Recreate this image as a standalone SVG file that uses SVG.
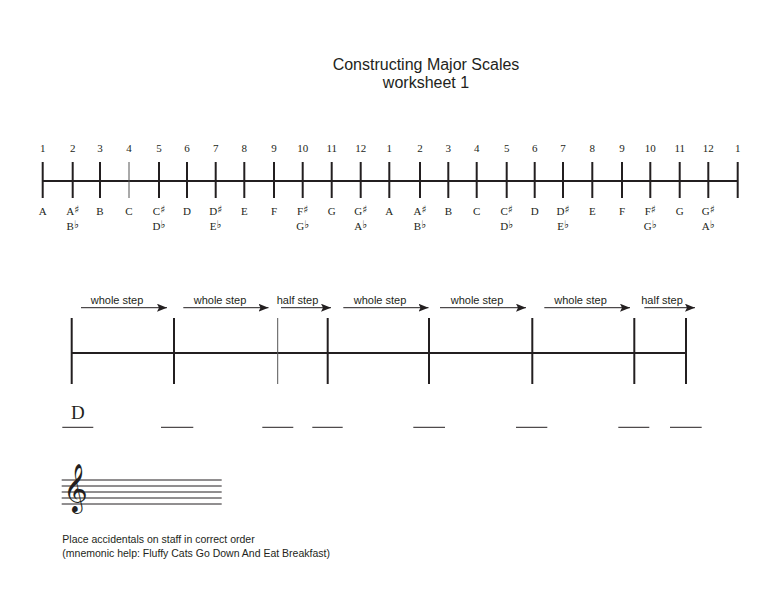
<svg xmlns="http://www.w3.org/2000/svg" width="768" height="594" viewBox="0 0 768 594">
<defs>
<style>
.sans{font-family:"Liberation Sans",Arial,sans-serif;fill:#231f20}
.serif{font-family:"Liberation Serif","DejaVu Serif",serif;fill:#231f20;font-size:11px}
.num{text-anchor:middle}
.note{text-anchor:middle}
.acc{font-size:10.5px;font-family:"DejaVu Serif",serif}
.tick{stroke:#231f20;stroke-width:2}
.thin{stroke:#555;stroke-width:1}
.axis{stroke:#231f20;stroke-width:2}
.arrow{stroke:#231f20;stroke-width:1;marker-end:url(#ah)}
.blank{stroke:#231f20;stroke-width:1}
.staff{stroke:#231f20;stroke-width:1}
.lbl{font-size:11px;text-anchor:middle}
</style>
<marker id="ah" viewBox="0 0 10 8" refX="10" refY="4" markerWidth="10" markerHeight="8" markerUnits="userSpaceOnUse" orient="auto">
<path d="M0,0 L10,4 L0,8 L2,4 Z" fill="#231f20"/>
</marker>
</defs>
<rect width="768" height="594" fill="#fff"/>

<g id="title" class="sans" text-anchor="middle" font-size="16">
<text x="426" y="70">Constructing Major Scales</text>
<text x="426" y="88">worksheet 1</text>
</g>

<g id="chromatic-line">
<line class="axis" x1="42.7" y1="181" x2="737.7" y2="181"/>
<g id="ticks">
<line class="tick" x1="42.7" y1="162" x2="42.7" y2="198"/>
<line class="tick" x1="72.7" y1="162" x2="72.7" y2="198"/>
<line class="tick" x1="100" y1="162" x2="100" y2="198"/>
<line class="thin" x1="129" y1="162" x2="129" y2="198"/>
<line class="tick" x1="159" y1="162" x2="159" y2="198"/>
<line class="tick" x1="187" y1="162" x2="187" y2="198"/>
<line class="tick" x1="215.7" y1="162" x2="215.7" y2="198"/>
<line class="tick" x1="244.3" y1="162" x2="244.3" y2="198"/>
<line class="tick" x1="274" y1="162" x2="274" y2="198"/>
<line class="tick" x1="302.7" y1="162" x2="302.7" y2="198"/>
<line class="tick" x1="331.7" y1="162" x2="331.7" y2="198"/>
<line class="tick" x1="360.7" y1="162" x2="360.7" y2="198"/>
<line class="tick" x1="389.3" y1="162" x2="389.3" y2="198"/>
<line class="tick" x1="420" y1="162" x2="420" y2="198"/>
<line class="tick" x1="448.3" y1="162" x2="448.3" y2="198"/>
<line class="tick" x1="476.7" y1="162" x2="476.7" y2="198"/>
<line class="tick" x1="506.7" y1="162" x2="506.7" y2="198"/>
<line class="tick" x1="534.7" y1="162" x2="534.7" y2="198"/>
<line class="tick" x1="563" y1="162" x2="563" y2="198"/>
<line class="tick" x1="592.3" y1="162" x2="592.3" y2="198"/>
<line class="tick" x1="622" y1="162" x2="622" y2="198"/>
<line class="tick" x1="650.3" y1="162" x2="650.3" y2="198"/>
<line class="tick" x1="679.7" y1="162" x2="679.7" y2="198"/>
<line class="tick" x1="708.3" y1="162" x2="708.3" y2="198"/>
<line class="tick" x1="737.7" y1="162" x2="737.7" y2="198"/>
</g>
<g id="numbers" class="serif num">
<text x="42.7" y="152">1</text>
<text x="72.7" y="152">2</text>
<text x="100" y="152">3</text>
<text x="129" y="152">4</text>
<text x="159" y="152">5</text>
<text x="187" y="152">6</text>
<text x="215.7" y="152">7</text>
<text x="244.3" y="152">8</text>
<text x="274" y="152">9</text>
<text x="302.7" y="152">10</text>
<text x="331.7" y="152">11</text>
<text x="360.7" y="152">12</text>
<text x="389.3" y="152">1</text>
<text x="420" y="152">2</text>
<text x="448.3" y="152">3</text>
<text x="476.7" y="152">4</text>
<text x="506.7" y="152">5</text>
<text x="534.7" y="152">6</text>
<text x="563" y="152">7</text>
<text x="592.3" y="152">8</text>
<text x="622" y="152">9</text>
<text x="650.3" y="152">10</text>
<text x="679.7" y="152">11</text>
<text x="708.3" y="152">12</text>
<text x="737.7" y="152">1</text>
</g>
<g id="notes" class="serif note">
<text x="42.7" y="215">A</text>
<text x="72.7" y="215">A<tspan class="acc" dy="-2">♯</tspan></text>
<text x="72.7" y="230">B<tspan class="acc" dy="-2">♭</tspan></text>
<text x="100" y="215">B</text>
<text x="129" y="215">C</text>
<text x="159" y="215">C<tspan class="acc" dy="-2">♯</tspan></text>
<text x="159" y="230">D<tspan class="acc" dy="-2">♭</tspan></text>
<text x="187" y="215">D</text>
<text x="215.7" y="215">D<tspan class="acc" dy="-2">♯</tspan></text>
<text x="215.7" y="230">E<tspan class="acc" dy="-2">♭</tspan></text>
<text x="244.3" y="215">E</text>
<text x="274" y="215">F</text>
<text x="302.7" y="215">F<tspan class="acc" dy="-2">♯</tspan></text>
<text x="302.7" y="230">G<tspan class="acc" dy="-2">♭</tspan></text>
<text x="331.7" y="215">G</text>
<text x="360.7" y="215">G<tspan class="acc" dy="-2">♯</tspan></text>
<text x="360.7" y="230">A<tspan class="acc" dy="-2">♭</tspan></text>
<text x="389.3" y="215">A</text>
<text x="420" y="215">A<tspan class="acc" dy="-2">♯</tspan></text>
<text x="420" y="230">B<tspan class="acc" dy="-2">♭</tspan></text>
<text x="448.3" y="215">B</text>
<text x="476.7" y="215">C</text>
<text x="506.7" y="215">C<tspan class="acc" dy="-2">♯</tspan></text>
<text x="506.7" y="230">D<tspan class="acc" dy="-2">♭</tspan></text>
<text x="534.7" y="215">D</text>
<text x="563" y="215">D<tspan class="acc" dy="-2">♯</tspan></text>
<text x="563" y="230">E<tspan class="acc" dy="-2">♭</tspan></text>
<text x="592.3" y="215">E</text>
<text x="622" y="215">F</text>
<text x="650.3" y="215">F<tspan class="acc" dy="-2">♯</tspan></text>
<text x="650.3" y="230">G<tspan class="acc" dy="-2">♭</tspan></text>
<text x="679.7" y="215">G</text>
<text x="708.3" y="215">G<tspan class="acc" dy="-2">♯</tspan></text>
<text x="708.3" y="230">A<tspan class="acc" dy="-2">♭</tspan></text>
</g>
</g>

<g id="step-line">
<line class="axis" x1="71.7" y1="353" x2="686" y2="353"/>
<line class="tick" x1="71.7" y1="318" x2="71.7" y2="384"/>
<line class="tick" x1="174" y1="318" x2="174" y2="384"/>
<line class="thin" x1="277.7" y1="318" x2="277.7" y2="384"/>
<line class="tick" x1="327.7" y1="318" x2="327.7" y2="384"/>
<line class="tick" x1="429" y1="318" x2="429" y2="384"/>
<line class="tick" x1="532.3" y1="318" x2="532.3" y2="384"/>
<line class="tick" x1="634.3" y1="318" x2="634.3" y2="384"/>
<line class="tick" x1="686" y1="318" x2="686" y2="384"/>
</g>

<g id="connectors">
<line class="arrow" x1="81" y1="307.7" x2="167" y2="307.7"/>
<line class="arrow" x1="183.3" y1="307.7" x2="268.5" y2="307.7"/>
<line class="arrow" x1="281" y1="307.7" x2="331" y2="307.7"/>
<line class="arrow" x1="343.3" y1="307.7" x2="428.5" y2="307.7"/>
<line class="arrow" x1="440" y1="307.7" x2="526" y2="307.7"/>
<line class="arrow" x1="544.3" y1="307.7" x2="630" y2="307.7"/>
<line class="arrow" x1="644.3" y1="307.7" x2="695" y2="307.7"/>
</g>

<g id="step-labels" class="sans lbl">
<text x="117" y="303.5">whole step</text>
<text x="220" y="303.5">whole step</text>
<text x="297.5" y="303.5">half step</text>
<text x="380" y="303.5">whole step</text>
<text x="477" y="303.5">whole step</text>
<text x="580.5" y="303.5">whole step</text>
<text x="662" y="303.5">half step</text>
</g>

<g id="answers">
<text class="serif" x="71" y="418.5" style="font-size:19px">D</text>
<line class="blank" x1="62.3" y1="427.3" x2="93.3" y2="427.3"/>
<line class="blank" x1="161" y1="427.3" x2="193.3" y2="427.3"/>
<line class="blank" x1="262.3" y1="427.3" x2="293.3" y2="427.3"/>
<line class="blank" x1="312.3" y1="427.3" x2="342.7" y2="427.3"/>
<line class="blank" x1="413.3" y1="427.3" x2="445" y2="427.3"/>
<line class="blank" x1="516" y1="427.3" x2="547.3" y2="427.3"/>
<line class="blank" x1="618.3" y1="427.3" x2="649.3" y2="427.3"/>
<line class="blank" x1="670" y1="427.3" x2="701.7" y2="427.3"/>
</g>

<g id="staff">
<line class="staff" x1="61.7" y1="480" x2="221.7" y2="480"/>
<line class="staff" x1="61.7" y1="486" x2="221.7" y2="486"/>
<line class="staff" x1="61.7" y1="492" x2="221.7" y2="492"/>
<line class="staff" x1="61.7" y1="498" x2="221.7" y2="498"/>
<line class="staff" x1="61.7" y1="504" x2="221.7" y2="504"/>
<text x="63" y="502" font-family="DejaVu Sans, sans-serif" font-size="42" fill="#231f20">𝄞</text>
</g>

<g id="instructions" class="sans" font-size="10.5">
<text x="62.3" y="543.3">Place accidentals on staff in correct order</text>
<text x="62.3" y="556.7">(mnemonic help: Fluffy Cats Go Down And Eat Breakfast)</text>
</g>
</svg>
